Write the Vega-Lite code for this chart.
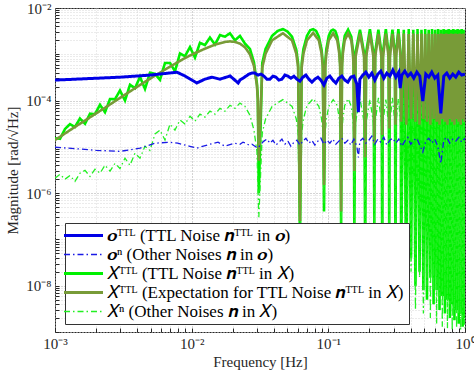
{
"$schema": "https://vega.github.io/schema/vega-lite/v6.json",
"width": 410, "height": 324,
"autosize": {"type": "none"},
"padding": {"left": 55, "top": 8, "right": 9, "bottom": 40},
"background": "white",
"config": {
  "view": {"stroke": "#262626", "strokeWidth": 1},
  "font": "Liberation Serif",
  "axis": {"domain": false, "tickColor": "#262626", "tickSize": -4, "labelPadding": 8, "labelFont": "Liberation Serif", "labelFontSize": 15, "labelColor": "#262626", "titleFont": "Liberation Serif", "titleFontSize": 15, "titleFontWeight": "normal", "titleColor": "#262626", "labelOverlap": false, "labelBound": false, "labelFlush": false, "grid": true, "gridDash": [1, 2]},
  "legend": {"orient": "none", "legendX": 10, "legendY": 215, "fillColor": "white", "strokeColor": "#333333", "padding": 4, "labelFont": "Liberation Serif", "labelFontSize": 17, "labelColor": "black", "labelLimit": 400, "symbolType": "stroke", "symbolSize": 1520, "symbolStrokeWidth": 3, "rowPadding": 1, "symbolOffset": 6, "labelOffset": 15}
},
"data": {"values": [
{"s":"a","f":0.001,"v":2.77e-4},{"s":"a","f":0.00299,"v":3.2e-4},{"s":"a","f":0.00496,"v":3.55e-4},{"s":"a","f":0.0078,"v":4.1e-4},{"s":"a","f":0.00893,"v":3.4e-4},{"s":"a","f":0.0109,"v":2.4e-4},{"s":"a","f":0.0125,"v":2.9e-4},{"s":"a","f":0.0141,"v":3.2e-4},{"s":"a","f":0.0161,"v":2.9e-4},{"s":"a","f":0.0191,"v":3.4e-4},{"s":"a","f":0.0219,"v":2.4e-4},
{"s":"a","f":0.02256,"v":2.77e-4},{"s":"a","f":0.02373,"v":3.05e-4},{"s":"a","f":0.02496,"v":3.37e-4},{"s":"a","f":0.02625,"v":3.73e-4},{"s":"a","f":0.02761,"v":3.92e-4},{"s":"a","f":0.02904,"v":3.92e-4},{"s":"a","f":0.03054,"v":3.55e-4},{"s":"a","f":0.03212,"v":3.73e-4},{"s":"a","f":0.03379,"v":3.37e-4},{"s":"a","f":0.03554,"v":2.9e-4},{"s":"a","f":0.03738,"v":2.9e-4},{"s":"a","f":0.03932,"v":3.37e-4},{"s":"a","f":0.04135,"v":3.21e-4},{"s":"a","f":0.04349,"v":2.77e-4},{"s":"a","f":0.04575,"v":2.9e-4},{"s":"a","f":0.04812,"v":3.55e-4},{"s":"a","f":0.05061,"v":3.37e-4},{"s":"a","f":0.05323,"v":3.05e-4},{"s":"a","f":0.05599,"v":3.37e-4},{"s":"a","f":0.05889,"v":2.9e-4},{"s":"a","f":0.06194,"v":2.63e-4},{"s":"a","f":0.06515,"v":3.21e-4},{"s":"a","f":0.06852,"v":3.55e-4},{"s":"a","f":0.07207,"v":2.9e-4},{"s":"a","f":0.0758,"v":2.5e-4},{"s":"a","f":0.07973,"v":2.9e-4},{"s":"a","f":0.08386,"v":3.21e-4},{"s":"a","f":0.0882,"v":2.77e-4},{"s":"a","f":0.09277,"v":2.16e-4},{"s":"a","f":0.09758,"v":3.05e-4},{"s":"a","f":0.10263,"v":3.37e-4},{"s":"a","f":0.10795,"v":2.77e-4},{"s":"a","f":0.11354,"v":2.38e-4},{"s":"a","f":0.11942,"v":3.05e-4},{"s":"a","f":0.12561,"v":3.37e-4},{"s":"a","f":0.13211,"v":2.77e-4},{"s":"a","f":0.13895,"v":2.5e-4},{"s":"a","f":0.14615,"v":3.21e-4},{"s":"a","f":0.15372,"v":3.37e-4},{"s":"a","f":0.16168,"v":2.27e-4},{"s":"a","f":0.1659,"v":5.6e-5},{"s":"a","f":0.17006,"v":2.9e-4},{"s":"a","f":0.17887,"v":3.55e-4},{"s":"a","f":0.18813,"v":4.12e-4},{"s":"a","f":0.19788,"v":3.21e-4},{"s":"a","f":0.20813,"v":3.92e-4},{"s":"a","f":0.21891,"v":2.77e-4},{"s":"a","f":0.23025,"v":3.73e-4},{"s":"a","f":0.24217,"v":4.33e-4},{"s":"a","f":0.25472,"v":3.05e-4},{"s":"a","f":0.26791,"v":3.92e-4},{"s":"a","f":0.28179,"v":3.37e-4},{"s":"a","f":0.29639,"v":4.55e-4},{"s":"a","f":0.31174,"v":3.21e-4},{"s":"a","f":0.32789,"v":4.12e-4},{"s":"a","f":0.3353,"v":1.86e-4},{"s":"a","f":0.34487,"v":3.55e-4},{"s":"a","f":0.36274,"v":4.33e-4},{"s":"a","f":0.38153,"v":3.37e-4},{"s":"a","f":0.4013,"v":3.92e-4},{"s":"a","f":0.42208,"v":3.05e-4},{"s":"a","f":0.44395,"v":4.12e-4},{"s":"a","f":0.46694,"v":3.37e-4},{"s":"a","f":0.49113,"v":9.7e-5},{"s":"a","f":0.51657,"v":3.73e-4},{"s":"a","f":0.54333,"v":3.21e-4},{"s":"a","f":0.57148,"v":4.12e-4},{"s":"a","f":0.60108,"v":3.05e-4},{"s":"a","f":0.63222,"v":3.55e-4},{"s":"a","f":0.66497,"v":5.3e-5},{"s":"a","f":0.69941,"v":3.37e-4},{"s":"a","f":0.73564,"v":3.92e-4},{"s":"a","f":0.77375,"v":3.05e-4},{"s":"a","f":0.81383,"v":3.73e-4},{"s":"a","f":0.85599,"v":3.21e-4},{"s":"a","f":0.90033,"v":4.12e-4},{"s":"a","f":0.94697,"v":3.55e-4},{"s":"a","f":1.0,"v":3.73e-4},
{"s":"b","f":0.001,"v":9.8e-6},{"s":"b","f":0.0015,"v":9.0e-6},{"s":"b","f":0.002,"v":8.4e-6},{"s":"b","f":0.003,"v":8.0e-6},{"s":"b","f":0.0042,"v":9.4e-6},{"s":"b","f":0.0054,"v":1.2e-5},{"s":"b","f":0.0069,"v":1.26e-5},{"s":"b","f":0.0079,"v":1.2e-5},{"s":"b","f":0.0097,"v":1.03e-5},{"s":"b","f":0.0109,"v":9.4e-6},{"s":"b","f":0.0136,"v":1.14e-5},{"s":"b","f":0.0156,"v":1.26e-5},{"s":"b","f":0.0175,"v":1.03e-5},{"s":"b","f":0.0207,"v":1.2e-5},
{"s":"b","f":0.02256,"v":1.14e-5},{"s":"b","f":0.02373,"v":1.26e-5},{"s":"b","f":0.02496,"v":1.2e-5},{"s":"b","f":0.02625,"v":1.09e-5},{"s":"b","f":0.02761,"v":1.14e-5},{"s":"b","f":0.02904,"v":1.03e-5},{"s":"b","f":0.03054,"v":9.4e-6},{"s":"b","f":0.03212,"v":1.14e-5},{"s":"b","f":0.03379,"v":1.33e-5},{"s":"b","f":0.03554,"v":1.47e-5},{"s":"b","f":0.03738,"v":1.2e-5},{"s":"b","f":0.03932,"v":1.39e-5},{"s":"b","f":0.04135,"v":1.09e-5},{"s":"b","f":0.04349,"v":1.26e-5},{"s":"b","f":0.04575,"v":1.47e-5},{"s":"b","f":0.04812,"v":1.14e-5},{"s":"b","f":0.05061,"v":1.33e-5},{"s":"b","f":0.05323,"v":1.03e-5},{"s":"b","f":0.05599,"v":1.26e-5},{"s":"b","f":0.05889,"v":1.39e-5},{"s":"b","f":0.06194,"v":1.09e-5},{"s":"b","f":0.06515,"v":1.33e-5},{"s":"b","f":0.06852,"v":1.54e-5},{"s":"b","f":0.07207,"v":1.2e-5},{"s":"b","f":0.0758,"v":1.39e-5},{"s":"b","f":0.07973,"v":1.09e-5},{"s":"b","f":0.08386,"v":1.33e-5},{"s":"b","f":0.0882,"v":1.54e-5},{"s":"b","f":0.09277,"v":1.14e-5},{"s":"b","f":0.09758,"v":1.39e-5},{"s":"b","f":0.10263,"v":1.2e-5},{"s":"b","f":0.10795,"v":1.47e-5},{"s":"b","f":0.11354,"v":1.14e-5},{"s":"b","f":0.11942,"v":1.33e-5},{"s":"b","f":0.12561,"v":1.54e-5},{"s":"b","f":0.13211,"v":1.2e-5},{"s":"b","f":0.13895,"v":1.39e-5},{"s":"b","f":0.14615,"v":1.09e-5},{"s":"b","f":0.15372,"v":1.47e-5},{"s":"b","f":0.16168,"v":1.03e-5},{"s":"b","f":0.1659,"v":5.9e-6},{"s":"b","f":0.17006,"v":1.33e-5},{"s":"b","f":0.17887,"v":1.54e-5},{"s":"b","f":0.18813,"v":1.2e-5},{"s":"b","f":0.19788,"v":1.39e-5},{"s":"b","f":0.20813,"v":1.7e-5},{"s":"b","f":0.21891,"v":1.14e-5},{"s":"b","f":0.23025,"v":1.47e-5},{"s":"b","f":0.24217,"v":1.26e-5},{"s":"b","f":0.25472,"v":1.61e-5},{"s":"b","f":0.26791,"v":1.09e-5},{"s":"b","f":0.28179,"v":1.39e-5},{"s":"b","f":0.29639,"v":1.54e-5},{"s":"b","f":0.31174,"v":1.2e-5},{"s":"b","f":0.32789,"v":1.47e-5},{"s":"b","f":0.34487,"v":1.03e-5},{"s":"b","f":0.36274,"v":1.33e-5},{"s":"b","f":0.38153,"v":1.61e-5},{"s":"b","f":0.4013,"v":1.14e-5},{"s":"b","f":0.42208,"v":1.39e-5},{"s":"b","f":0.44395,"v":1.54e-5},{"s":"b","f":0.46694,"v":1.09e-5},{"s":"b","f":0.49113,"v":7.7e-6},{"s":"b","f":0.51657,"v":1.33e-5},{"s":"b","f":0.54333,"v":1.54e-5},{"s":"b","f":0.57148,"v":1.2e-5},{"s":"b","f":0.60108,"v":1.47e-5},{"s":"b","f":0.63222,"v":1.03e-5},{"s":"b","f":0.66497,"v":4.4e-6},{"s":"b","f":0.69941,"v":1.39e-5},{"s":"b","f":0.73564,"v":1.61e-5},{"s":"b","f":0.77375,"v":1.2e-5},{"s":"b","f":0.81383,"v":1.47e-5},{"s":"b","f":0.85599,"v":1.33e-5},{"s":"b","f":0.90033,"v":1.61e-5},{"s":"b","f":0.94697,"v":1.26e-5},{"s":"b","f":1.0,"v":1.54e-5},
{"s":"c","f":0.001,"v":1.54e-5},{"s":"c","f":0.001088,"v":1.49e-5},{"s":"c","f":0.001184,"v":2.44e-5},{"s":"c","f":0.001287,"v":3.1e-5},{"s":"c","f":0.0014,"v":2.7e-5},{"s":"c","f":0.001523,"v":4.1e-5},{"s":"c","f":0.001658,"v":3.15e-5},{"s":"c","f":0.001803,"v":5.2e-5},{"s":"c","f":0.001962,"v":5.1e-5},{"s":"c","f":0.002134,"v":8.1e-5},{"s":"c","f":0.002322,"v":5.6e-5},{"s":"c","f":0.002526,"v":1.08e-4},{"s":"c","f":0.002748,"v":1.07e-4},{"s":"c","f":0.002989,"v":1.65e-4},{"s":"c","f":0.003252,"v":1.0e-4},{"s":"c","f":0.003538,"v":2.2e-4},{"s":"c","f":0.003849,"v":1.85e-4},{"s":"c","f":0.004187,"v":3.25e-4},{"s":"c","f":0.004555,"v":1.78e-4},{"s":"c","f":0.004955,"v":4.0e-4},{"s":"c","f":0.00539,"v":3.8e-4},{"s":"c","f":0.005864,"v":2.8e-4},{"s":"c","f":0.00638,"v":6.5e-4},{"s":"c","f":0.00694,"v":6.5e-4},{"s":"c","f":0.00755,"v":4.3e-4},{"s":"c","f":0.00821,"v":1.04e-3},{"s":"c","f":0.00893,"v":9.1e-4},{"s":"c","f":0.00972,"v":1.43e-3},{"s":"c","f":0.01057,"v":8.5e-4},{"s":"c","f":0.0115,"v":1.77e-3},{"s":"c","f":0.01251,"v":1.58e-3},{"s":"c","f":0.01361,"v":2.3e-3},{"s":"c","f":0.01481,"v":1.62e-3},{"s":"c","f":0.01611,"v":2.6e-3},{"s":"c","f":0.01752,"v":2.4e-3},{"s":"c","f":0.01906,"v":2.85e-3},{"s":"c","f":0.02074,"v":2.0e-3},{"s":"c","f":0.02256,"v":2.5e-3},{"s":"c","f":0.02454,"v":1.7e-3},{"s":"c","f":0.0267,"v":1.3e-3},{"s":"c","f":0.02856,"v":6.7e-4},{"s":"c","f":0.03004,"v":2.3e-4},{"s":"c","f":0.0305,"v":1.1e-4},{"s":"c","f":0.031,"v":1e-6},
{"s":"c","f":0.03286,"v":6.5e-4},{"s":"c","f":0.03472,"v":1.3e-3},{"s":"c","f":0.03875,"v":2.5e-3},{"s":"c","f":0.0426,"v":3.2e-3},{"s":"c","f":0.0465,"v":3.5e-3},{"s":"c","f":0.0503,"v":3.1e-3},{"s":"c","f":0.05425,"v":2.4e-3},{"s":"c","f":0.05828,"v":1.25e-3},{"s":"c","f":0.06014,"v":6.2e-4},{"s":"c","f":0.062,"v":1e-7},
{"s":"c","f":0.06386,"v":6.5e-4},{"s":"c","f":0.06572,"v":1.3e-3},{"s":"c","f":0.06975,"v":2.5e-3},{"s":"c","f":0.0736,"v":3.3e-3},{"s":"c","f":0.0775,"v":3.5e-3},{"s":"c","f":0.0814,"v":3.2e-3},{"s":"c","f":0.08525,"v":2.4e-3},{"s":"c","f":0.08928,"v":1.25e-3},{"s":"c","f":0.09114,"v":6.2e-4},{"s":"c","f":0.093,"v":4e-7},
{"s":"c","f":0.09486,"v":6.5e-4},{"s":"c","f":0.09672,"v":1.3e-3},{"s":"c","f":0.10075,"v":2.5e-3},{"s":"c","f":0.1046,"v":3.2e-3},{"s":"c","f":0.1085,"v":3.4e-3},{"s":"c","f":0.1124,"v":3.2e-3},{"s":"c","f":0.11625,"v":2.4e-3},{"s":"c","f":0.12028,"v":1.25e-3},{"s":"c","f":0.12214,"v":6.2e-4},{"s":"c","f":0.124,"v":1.5e-7},
{"s":"c","f":0.12586,"v":6.5e-4},{"s":"c","f":0.12772,"v":1.3e-3},{"s":"c","f":0.13175,"v":2.5e-3},{"s":"c","f":0.1395,"v":3.4e-3},{"s":"c","f":0.14725,"v":2.4e-3},{"s":"c","f":0.15128,"v":1.25e-3},{"s":"c","f":0.15314,"v":6.2e-4},{"s":"c","f":0.155,"v":1.5e-7},
{"s":"c","f":0.1581,"v":1.1e-3},{"s":"c","f":0.1705,"v":3.4e-3},{"s":"c","f":0.1829,"v":1.05e-3},{"s":"c","f":0.186,"v":3e-8},
{"s":"c","f":0.1891,"v":1.1e-3},{"s":"c","f":0.2015,"v":3.5e-3},{"s":"c","f":0.2139,"v":1.05e-3},{"s":"c","f":0.217,"v":2e-7},
{"s":"c","f":0.2201,"v":1.1e-3},{"s":"c","f":0.2325,"v":3.4e-3},{"s":"c","f":0.2449,"v":1.05e-3},{"s":"c","f":0.248,"v":3e-8},
{"s":"c","f":0.2511,"v":1.1e-3},{"s":"c","f":0.2635,"v":3.5e-3},{"s":"c","f":0.2759,"v":1.05e-3},{"s":"c","f":0.279,"v":1e-7},
{"s":"c","f":0.2821,"v":1.1e-3},{"s":"c","f":0.2945,"v":3.4e-3},{"s":"c","f":0.3069,"v":1.05e-3},{"s":"c","f":0.31,"v":2e-8},
{"s":"c","f":0.3131,"v":1.1e-3},{"s":"c","f":0.3255,"v":3.5e-3},{"s":"c","f":0.3379,"v":1.05e-3},{"s":"c","f":0.341,"v":5e-8},
{"s":"c","f":0.3565,"v":3.4e-3},{"s":"c","f":0.372,"v":1.5e-8},{"s":"c","f":0.3875,"v":3.5e-3},{"s":"c","f":0.403,"v":4e-8},{"s":"c","f":0.4185,"v":3.4e-3},{"s":"c","f":0.434,"v":1e-8},{"s":"c","f":0.4495,"v":3.5e-3},{"s":"c","f":0.465,"v":2e-8},{"s":"c","f":0.4805,"v":3.4e-3},{"s":"c","f":0.496,"v":8e-9},{"s":"c","f":0.5115,"v":3.5e-3},{"s":"c","f":0.527,"v":5e-9},{"s":"c","f":0.5425,"v":3.4e-3},{"s":"c","f":0.558,"v":1.5e-8},{"s":"c","f":0.5735,"v":3.5e-3},{"s":"c","f":0.589,"v":4e-9},{"s":"c","f":0.6045,"v":3.4e-3},{"s":"c","f":0.62,"v":8e-9},{"s":"c","f":0.6355,"v":3.5e-3},{"s":"c","f":0.651,"v":3e-9},{"s":"c","f":0.6665,"v":3.4e-3},{"s":"c","f":0.682,"v":6e-9},{"s":"c","f":0.6975,"v":3.5e-3},{"s":"c","f":0.713,"v":2.5e-9},{"s":"c","f":0.7285,"v":3.4e-3},{"s":"c","f":0.744,"v":5e-9},{"s":"c","f":0.7595,"v":3.5e-3},{"s":"c","f":0.775,"v":2e-9},{"s":"c","f":0.7905,"v":3.4e-3},{"s":"c","f":0.806,"v":4e-9},{"s":"c","f":0.8215,"v":3.5e-3},{"s":"c","f":0.837,"v":1.8e-9},{"s":"c","f":0.8525,"v":3.4e-3},{"s":"c","f":0.868,"v":3e-9},{"s":"c","f":0.8835,"v":3.5e-3},{"s":"c","f":0.899,"v":1.5e-9},{"s":"c","f":0.9145,"v":3.4e-3},{"s":"c","f":0.93,"v":2.5e-9},{"s":"c","f":0.9455,"v":3.5e-3},{"s":"c","f":0.961,"v":1.3e-9},{"s":"c","f":0.9765,"v":3.4e-3},{"s":"c","f":0.992,"v":2e-9},{"s":"c","f":1.0,"v":2.4e-3},
{"s":"d","f":0.001,"v":1.4e-5},{"s":"d","f":0.001184,"v":1.95e-5},{"s":"d","f":0.0014,"v":2.7e-5},{"s":"d","f":0.001658,"v":3.7e-5},{"s":"d","f":0.001962,"v":5.1e-5},{"s":"d","f":0.002322,"v":7.0e-5},{"s":"d","f":0.002748,"v":9.7e-5},{"s":"d","f":0.003252,"v":1.34e-4},{"s":"d","f":0.003849,"v":1.85e-4},{"s":"d","f":0.004555,"v":2.54e-4},{"s":"d","f":0.00539,"v":3.45e-4},{"s":"d","f":0.00638,"v":4.65e-4},{"s":"d","f":0.00755,"v":6.2e-4},{"s":"d","f":0.00893,"v":8.3e-4},{"s":"d","f":0.01057,"v":1.06e-3},{"s":"d","f":0.01251,"v":1.32e-3},{"s":"d","f":0.01481,"v":1.62e-3},{"s":"d","f":0.01752,"v":1.85e-3},{"s":"d","f":0.01906,"v":1.9e-3},{"s":"d","f":0.02074,"v":1.85e-3},{"s":"d","f":0.02256,"v":1.7e-3},{"s":"d","f":0.02454,"v":1.42e-3},{"s":"d","f":0.0267,"v":1.0e-3},{"s":"d","f":0.02856,"v":5.6e-4},{"s":"d","f":0.03004,"v":2.1e-4},{"s":"d","f":0.0305,"v":1.0e-4},{"s":"d","f":0.031,"v":5e-6},
{"s":"d","f":0.03286,"v":5.2e-4},{"s":"d","f":0.03472,"v":1.03e-3},{"s":"d","f":0.03875,"v":2.0e-3},{"s":"d","f":0.0465,"v":2.85e-3},{"s":"d","f":0.05425,"v":2.0e-3},{"s":"d","f":0.05828,"v":1.03e-3},{"s":"d","f":0.06014,"v":5.2e-4},{"s":"d","f":0.062,"v":2.5e-7},
{"s":"d","f":0.06386,"v":5.2e-4},{"s":"d","f":0.06572,"v":1.03e-3},{"s":"d","f":0.06975,"v":2.0e-3},{"s":"d","f":0.0775,"v":2.9e-3},{"s":"d","f":0.08525,"v":2.0e-3},{"s":"d","f":0.08928,"v":1.03e-3},{"s":"d","f":0.09114,"v":5.2e-4},{"s":"d","f":0.093,"v":1.5e-6},
{"s":"d","f":0.09486,"v":5.2e-4},{"s":"d","f":0.09672,"v":1.03e-3},{"s":"d","f":0.10075,"v":2.0e-3},{"s":"d","f":0.1085,"v":2.85e-3},{"s":"d","f":0.11625,"v":2.0e-3},{"s":"d","f":0.12028,"v":1.03e-3},{"s":"d","f":0.12214,"v":5.2e-4},{"s":"d","f":0.124,"v":4e-7},
{"s":"d","f":0.12586,"v":5.2e-4},{"s":"d","f":0.12772,"v":1.03e-3},{"s":"d","f":0.13175,"v":2.0e-3},{"s":"d","f":0.1395,"v":2.8e-3},{"s":"d","f":0.14725,"v":2.0e-3},{"s":"d","f":0.15128,"v":1.03e-3},{"s":"d","f":0.15314,"v":5.2e-4},{"s":"d","f":0.155,"v":3e-6},
{"s":"d","f":0.1581,"v":8.7e-4},{"s":"d","f":0.1705,"v":2.8e-3},{"s":"d","f":0.1829,"v":8.7e-4},{"s":"d","f":0.186,"v":6e-6},
{"s":"d","f":0.1891,"v":8.7e-4},{"s":"d","f":0.2015,"v":2.8e-3},{"s":"d","f":0.2139,"v":8.7e-4},{"s":"d","f":0.217,"v":1.2e-5},
{"s":"d","f":0.2201,"v":8.7e-4},{"s":"d","f":0.2325,"v":2.75e-3},{"s":"d","f":0.2449,"v":8.7e-4},{"s":"d","f":0.248,"v":1.8e-5},
{"s":"d","f":0.2511,"v":8.7e-4},{"s":"d","f":0.2635,"v":2.8e-3},{"s":"d","f":0.2759,"v":8.7e-4},{"s":"d","f":0.279,"v":2.5e-5},
{"s":"d","f":0.2821,"v":8.7e-4},{"s":"d","f":0.2945,"v":2.75e-3},{"s":"d","f":0.3069,"v":8.7e-4},{"s":"d","f":0.31,"v":3e-5},
{"s":"d","f":0.3131,"v":8.7e-4},{"s":"d","f":0.3255,"v":2.8e-3},{"s":"d","f":0.3379,"v":8.7e-4},{"s":"d","f":0.341,"v":3.5e-5},
{"s":"d","f":0.3565,"v":2.8e-3},{"s":"d","f":0.372,"v":3e-5},{"s":"d","f":0.3875,"v":2.75e-3},{"s":"d","f":0.403,"v":4e-5},{"s":"d","f":0.4185,"v":2.8e-3},{"s":"d","f":0.434,"v":3.5e-5},{"s":"d","f":0.4495,"v":2.75e-3},{"s":"d","f":0.465,"v":3e-5},{"s":"d","f":0.4805,"v":2.8e-3},{"s":"d","f":0.496,"v":4e-5},{"s":"d","f":0.5115,"v":2.75e-3},{"s":"d","f":0.527,"v":3.5e-5},{"s":"d","f":0.5425,"v":2.8e-3},{"s":"d","f":0.558,"v":3e-5},{"s":"d","f":0.5735,"v":2.75e-3},{"s":"d","f":0.589,"v":4e-5},{"s":"d","f":0.6045,"v":2.8e-3},{"s":"d","f":0.62,"v":3.5e-5},{"s":"d","f":0.6355,"v":2.75e-3},{"s":"d","f":0.651,"v":3e-5},{"s":"d","f":0.6665,"v":2.8e-3},{"s":"d","f":0.682,"v":4e-5},{"s":"d","f":0.6975,"v":2.75e-3},{"s":"d","f":0.713,"v":3.5e-5},{"s":"d","f":0.7285,"v":2.8e-3},{"s":"d","f":0.744,"v":3e-5},{"s":"d","f":0.7595,"v":2.75e-3},{"s":"d","f":0.775,"v":4e-5},{"s":"d","f":0.7905,"v":2.8e-3},{"s":"d","f":0.806,"v":3.5e-5},{"s":"d","f":0.8215,"v":2.75e-3},{"s":"d","f":0.837,"v":3e-5},{"s":"d","f":0.8525,"v":2.8e-3},{"s":"d","f":0.868,"v":4e-5},{"s":"d","f":0.8835,"v":2.75e-3},{"s":"d","f":0.899,"v":3.5e-5},{"s":"d","f":0.9145,"v":2.8e-3},{"s":"d","f":0.93,"v":3e-5},{"s":"d","f":0.9455,"v":2.75e-3},{"s":"d","f":0.961,"v":4e-5},{"s":"d","f":0.9765,"v":2.8e-3},{"s":"d","f":0.992,"v":3.5e-5},{"s":"d","f":1.0,"v":2.0e-3},
{"s":"e","f":0.001,"v":2.1e-6},{"s":"e","f":0.001088,"v":2.55e-6},{"s":"e","f":0.001184,"v":2.0e-6},{"s":"e","f":0.001287,"v":2.4e-6},{"s":"e","f":0.0014,"v":1.8e-6},{"s":"e","f":0.001523,"v":2.7e-6},{"s":"e","f":0.001658,"v":3.1e-6},{"s":"e","f":0.001803,"v":2.3e-6},{"s":"e","f":0.001962,"v":3.3e-6},{"s":"e","f":0.002134,"v":2.7e-6},{"s":"e","f":0.002322,"v":4.0e-6},{"s":"e","f":0.002526,"v":3.0e-6},{"s":"e","f":0.002748,"v":4.4e-6},{"s":"e","f":0.002989,"v":3.4e-6},{"s":"e","f":0.003252,"v":5.7e-6},{"s":"e","f":0.003538,"v":4.0e-6},{"s":"e","f":0.003849,"v":7.3e-6},{"s":"e","f":0.004187,"v":5.7e-6},{"s":"e","f":0.004555,"v":1.03e-5},{"s":"e","f":0.004955,"v":8.4e-6},{"s":"e","f":0.00539,"v":1.9e-5},{"s":"e","f":0.005864,"v":2.3e-5},{"s":"e","f":0.00638,"v":1.4e-5},{"s":"e","f":0.00694,"v":3.1e-5},{"s":"e","f":0.00755,"v":2.3e-5},{"s":"e","f":0.00821,"v":3.8e-5},{"s":"e","f":0.00893,"v":3.1e-5},{"s":"e","f":0.00972,"v":4.6e-5},{"s":"e","f":0.01057,"v":3.6e-5},{"s":"e","f":0.0115,"v":5.1e-5},{"s":"e","f":0.01251,"v":4.4e-5},{"s":"e","f":0.01361,"v":5.9e-5},{"s":"e","f":0.01481,"v":5.1e-5},{"s":"e","f":0.01611,"v":6.8e-5},{"s":"e","f":0.01752,"v":5.9e-5},{"s":"e","f":0.01906,"v":7.9e-5},{"s":"e","f":0.02074,"v":6.8e-5},{"s":"e","f":0.02256,"v":8.8e-5},{"s":"e","f":0.02454,"v":7.5e-5},{"s":"e","f":0.0267,"v":4.8e-5},{"s":"e","f":0.02856,"v":2.3e-5},{"s":"e","f":0.03004,"v":8e-6},{"s":"e","f":0.031,"v":3e-7},
{"s":"e","f":0.03286,"v":2.0e-5},{"s":"e","f":0.03472,"v":4.0e-5},{"s":"e","f":0.03875,"v":7.5e-5},{"s":"e","f":0.0465,"v":1.05e-4},{"s":"e","f":0.05425,"v":7.5e-5},{"s":"e","f":0.05828,"v":4.0e-5},{"s":"e","f":0.06014,"v":2.0e-5},{"s":"e","f":0.062,"v":4e-8},
{"s":"e","f":0.06386,"v":2.0e-5},{"s":"e","f":0.06572,"v":4.0e-5},{"s":"e","f":0.06975,"v":7.8e-5},{"s":"e","f":0.0775,"v":1.1e-4},{"s":"e","f":0.08525,"v":7.5e-5},{"s":"e","f":0.08928,"v":4.0e-5},{"s":"e","f":0.09114,"v":2.0e-5},{"s":"e","f":0.093,"v":6e-7},
{"s":"e","f":0.09486,"v":2.0e-5},{"s":"e","f":0.09672,"v":4.0e-5},{"s":"e","f":0.10075,"v":7.5e-5},{"s":"e","f":0.1085,"v":1.05e-4},{"s":"e","f":0.11625,"v":7.8e-5},{"s":"e","f":0.12028,"v":4.0e-5},{"s":"e","f":0.12214,"v":2.0e-5},{"s":"e","f":0.124,"v":8e-8},
{"s":"e","f":0.12586,"v":2.0e-5},{"s":"e","f":0.12772,"v":4.0e-5},{"s":"e","f":0.13175,"v":7.8e-5},{"s":"e","f":0.1395,"v":1.1e-4},{"s":"e","f":0.14725,"v":7.5e-5},{"s":"e","f":0.15128,"v":4.0e-5},{"s":"e","f":0.15314,"v":2.0e-5},{"s":"e","f":0.155,"v":2e-7},
{"s":"e","f":0.1581,"v":3.4e-5},{"s":"e","f":0.1705,"v":1.1e-4},{"s":"e","f":0.1829,"v":3.3e-5},{"s":"e","f":0.186,"v":1e-8},
{"s":"e","f":0.1891,"v":3.4e-5},{"s":"e","f":0.2015,"v":1.05e-4},{"s":"e","f":0.2139,"v":3.3e-5},{"s":"e","f":0.217,"v":1e-7},
{"s":"e","f":0.2201,"v":3.4e-5},{"s":"e","f":0.2325,"v":1.15e-4},{"s":"e","f":0.2449,"v":3.3e-5},{"s":"e","f":0.248,"v":5e-9},
{"s":"e","f":0.2511,"v":3.4e-5},{"s":"e","f":0.2635,"v":1.05e-4},{"s":"e","f":0.2759,"v":3.3e-5},{"s":"e","f":0.279,"v":5e-8},
{"s":"e","f":0.2821,"v":3.4e-5},{"s":"e","f":0.2945,"v":1.15e-4},{"s":"e","f":0.3069,"v":3.3e-5},{"s":"e","f":0.31,"v":3e-9},
{"s":"e","f":0.3131,"v":3.4e-5},{"s":"e","f":0.3255,"v":1.1e-4},{"s":"e","f":0.3379,"v":3.3e-5},{"s":"e","f":0.341,"v":3e-8},
{"s":"e","f":0.3565,"v":1.15e-4},{"s":"e","f":0.372,"v":4e-9},{"s":"e","f":0.3875,"v":1.05e-4},{"s":"e","f":0.403,"v":2e-8},{"s":"e","f":0.4185,"v":1.2e-4},{"s":"e","f":0.434,"v":3e-9},{"s":"e","f":0.4495,"v":1.1e-4},{"s":"e","f":0.465,"v":1.5e-8},{"s":"e","f":0.4805,"v":1.2e-4},{"s":"e","f":0.496,"v":2.5e-9},{"s":"e","f":0.5115,"v":1.1e-4},{"s":"e","f":0.527,"v":1e-8},{"s":"e","f":0.5425,"v":1.2e-4},{"s":"e","f":0.558,"v":2e-9},{"s":"e","f":0.5735,"v":1.1e-4},{"s":"e","f":0.589,"v":8e-9},{"s":"e","f":0.6045,"v":1.2e-4},{"s":"e","f":0.62,"v":1.5e-9},{"s":"e","f":0.6355,"v":1.1e-4},{"s":"e","f":0.651,"v":6e-9},{"s":"e","f":0.6665,"v":1.2e-4},{"s":"e","f":0.682,"v":1.3e-9},{"s":"e","f":0.6975,"v":1.1e-4},{"s":"e","f":0.713,"v":5e-9},{"s":"e","f":0.7285,"v":1.2e-4},{"s":"e","f":0.744,"v":1.2e-9},{"s":"e","f":0.7595,"v":1.1e-4},{"s":"e","f":0.775,"v":4e-9},{"s":"e","f":0.7905,"v":1.2e-4},{"s":"e","f":0.806,"v":1.1e-9},{"s":"e","f":0.8215,"v":1.1e-4},{"s":"e","f":0.837,"v":3e-9},{"s":"e","f":0.8525,"v":1.2e-4},{"s":"e","f":0.868,"v":1.2e-9},{"s":"e","f":0.8835,"v":1.1e-4},{"s":"e","f":0.899,"v":2.5e-9},{"s":"e","f":0.9145,"v":1.2e-4},{"s":"e","f":0.93,"v":1.1e-9},{"s":"e","f":0.9455,"v":1.1e-4},{"s":"e","f":0.961,"v":2e-9},{"s":"e","f":0.9765,"v":1.2e-4},{"s":"e","f":0.992,"v":1.2e-9},{"s":"e","f":1.0,"v":8e-5}
]},
"encoding": {
  "x": {"field": "f", "type": "quantitative", "scale": {"type": "log", "domain": [0.001, 1], "nice": false},
    "axis": {"title": "Frequency [Hz]", "titlePadding": 3,
      "values": [0.001,0.002,0.003,0.004,0.005,0.006,0.007,0.008,0.009,0.01,0.02,0.03,0.04,0.05,0.06,0.07,0.08,0.09,0.1,0.2,0.3,0.4,0.5,0.6,0.7,0.8,0.9,1],
      "labelExpr": "datum.value == 0.001 ? '10⁻³' : datum.value == 0.01 ? '10⁻²' : datum.value == 0.1 ? '10⁻¹' : datum.value == 1 ? '10⁰' : ''",
      "gridColor": {"condition": {"test": "datum.value == 0.001 || datum.value == 0.01 || datum.value == 0.1 || datum.value == 1", "value": "#a8a8a8"}, "value": "#d6d6d6"}}},
  "y": {"field": "v", "type": "quantitative", "scale": {"type": "log", "domain": [1e-9, 0.01], "nice": false},
    "axis": {"title": "Magnitude [rad/√Hz]", "titlePadding": 5,
      "values": [1e-9,2e-9,3e-9,4e-9,5e-9,6e-9,7e-9,8e-9,9e-9,1e-8,2e-8,3e-8,4e-8,5e-8,6e-8,7e-8,8e-8,9e-8,1e-7,2e-7,3e-7,4e-7,5e-7,6e-7,7e-7,8e-7,9e-7,1e-6,2e-6,3e-6,4e-6,5e-6,6e-6,7e-6,8e-6,9e-6,1e-5,2e-5,3e-5,4e-5,5e-5,6e-5,7e-5,8e-5,9e-5,1e-4,2e-4,3e-4,4e-4,5e-4,6e-4,7e-4,8e-4,9e-4,1e-3,2e-3,3e-3,4e-3,5e-3,6e-3,7e-3,8e-3,9e-3,0.01],
      "labelExpr": "datum.value == 0.01 ? '10⁻²' : datum.value == 1e-4 ? '10⁻⁴' : datum.value == 1e-6 ? '10⁻⁶' : datum.value == 1e-8 ? '10⁻⁸' : ''",
      "gridColor": {"condition": {"test": "datum.value == 0.01 || datum.value == 1e-4 || datum.value == 1e-6 || datum.value == 1e-8", "value": "#a8a8a8"}, "value": "#d6d6d6"}}},
  "color": {"field": "s", "type": "nominal",
    "scale": {"domain": ["a","b","c","d","e"], "range": ["#0000e6","#1a1ae6","#00f000","#789b38","#22f022"]},
    "legend": {"title": null,
      "labelExpr": "datum.label == 'a' ? '𝒐ᵀᵀᴸ (TTL Noise 𝒏ᵀᵀᴸ in 𝒐)' : datum.label == 'b' ? '𝒐ⁿ (Other Noises 𝒏 in 𝒐)' : datum.label == 'c' ? '𝑋ᵀᵀᴸ (TTL Noise 𝒏ᵀᵀᴸ in 𝑋)' : datum.label == 'd' ? '𝑋ᵀᵀᴸ (Expectation for TTL Noise 𝒏ᵀᵀᴸ in 𝑋)' : '𝑋ⁿ (Other Noises 𝒏 in 𝑋)'",
      "encode": {"symbols": {"update": {"strokeWidth": {"signal": "datum.value == 'b' || datum.value == 'e' ? 1.5 : 3"}}}}}},
  "strokeDash": {"field": "s", "type": "nominal",
    "scale": {"domain": ["a","b","c","d","e"], "range": [[1,0],[6,3,1.5,3],[1,0],[1,0],[6,3,1.5,3]]},
    "legend": {"title": null,
      "labelExpr": "datum.label == 'a' ? '𝒐ᵀᵀᴸ (TTL Noise 𝒏ᵀᵀᴸ in 𝒐)' : datum.label == 'b' ? '𝒐ⁿ (Other Noises 𝒏 in 𝒐)' : datum.label == 'c' ? '𝑋ᵀᵀᴸ (TTL Noise 𝒏ᵀᵀᴸ in 𝑋)' : datum.label == 'd' ? '𝑋ᵀᵀᴸ (Expectation for TTL Noise 𝒏ᵀᵀᴸ in 𝑋)' : '𝑋ⁿ (Other Noises 𝒏 in 𝑋)'"}}
},
"layer": [
  {"transform": [{"filter": "datum.s == 'c'"}], "mark": {"type": "line", "strokeWidth": 2.6, "clip": true}},
  {"transform": [{"filter": "datum.s == 'e'"}], "mark": {"type": "line", "strokeWidth": 1.3, "clip": true}},
  {"transform": [{"filter": "datum.s == 'd'"}], "mark": {"type": "line", "strokeWidth": 2.6, "clip": true}},
  {"transform": [{"filter": "datum.s == 'b'"}], "mark": {"type": "line", "strokeWidth": 1.3, "clip": true}},
  {"transform": [{"filter": "datum.s == 'a'"}], "mark": {"type": "line", "strokeWidth": 3, "clip": true}}
]
}
